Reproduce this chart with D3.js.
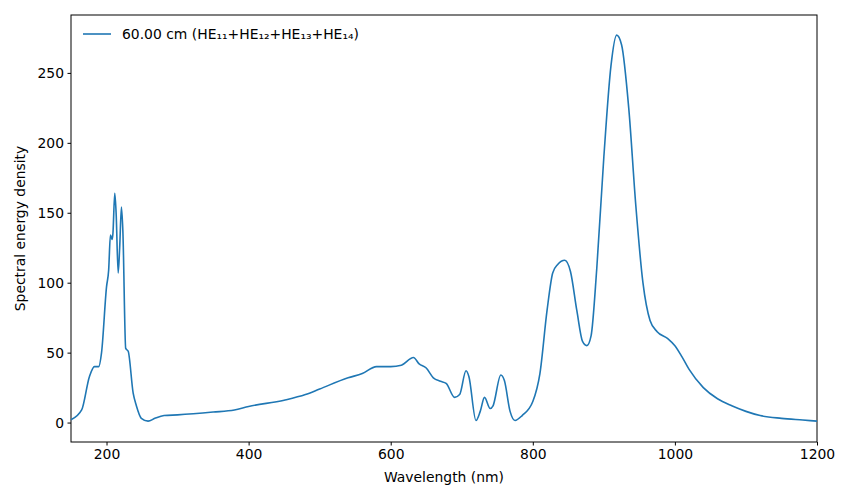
<!DOCTYPE html>
<html><head><meta charset="utf-8">
<script src="https://cdn.jsdelivr.net/npm/d3@7"></script>
<style>body{margin:0;background:#fff}svg text{font-family:"DejaVu Sans",sans-serif}</style>
</head><body><svg id="c" width="850" height="500"></svg>
<script>
const wavelength=[150,165,176,183,189,193,200,203,205.5,208,209,211.6,213.5,216.4,218.5,221,223,227,230.5,237.5,242,249,258.5,268,281,300,350,380,400,450,480,500,540,560,580,600,615,632,640,650,660,670,678,690,697,706,710,720,726,732,740,744,755,760,768,775,785,800,810,820,828,835,845,853,862,870,876,882,890,900,910,918,925,935,945,955,965,975,990,1000,1010,1020,1040,1060,1080,1100,1120,1150,1180,1200];
const density=[2,9,33,40,40,50,97,109,134,131,135,164,150,107,125,154,137,53,51,21,12,3,1,3,5,5.5,7.5,9,11.5,16,20,24,32,35,40,40,41,46.5,42,39,32,29.5,28,18,20,37,33,1.5,8,18,10,12,34,30,8,1.5,5,15,35,80,107,113,116,108,80,58,55,62,110,190,255,277,270,225,155,100,73,65,60,55,47,38,25,17,12,8,5,3,1.8,1];
const xTicks=[200,400,600,800,1000,1200];
const yTicks=[0,50,100,150,200,250];
const label="60.00 cm (HE₁₁+HE₁₂+HE₁₃+HE₁₄)";
const FS=13.9;
const svg=d3.select("#c");
const L=71,R=817,T=15,B=442;
const x=d3.scaleLinear().domain([150,1200]).range([L,R]);
const y=d3.scaleLinear().domain([-13.9,291.4]).range([B,T]);
svg.append("g").attr("transform",`translate(0,${B})`).call(d3.axisBottom(x).tickValues(xTicks).tickFormat(d3.format("d")).tickSize(3.5).tickPadding(3.5))
 .call(g=>{g.select(".domain").remove();g.selectAll("text").attr("font-size",FS).attr("fill","#000");});
svg.append("g").attr("transform",`translate(${L},0)`).call(d3.axisLeft(y).tickValues(yTicks).tickFormat(d3.format("d")).tickSize(3.5).tickPadding(3.5))
 .call(g=>{g.select(".domain").remove();g.selectAll("text").attr("font-size",FS).attr("fill","#000");});
svg.append("rect").attr("x",L).attr("y",T).attr("width",R-L).attr("height",B-T).attr("fill","none").attr("stroke","#000").attr("stroke-width",1);
const data=wavelength.map((w,i)=>[w,density[i]]);
svg.append("path").datum(data).attr("fill","none").attr("stroke","#1f77b4").attr("stroke-width",1.6)
 .attr("d",d3.line().x(d=>x(d[0])).y(d=>y(d[1])).curve(d3.curveMonotoneX));
svg.append("line").attr("x1",83).attr("x2",111).attr("y1",34).attr("y2",34).attr("stroke","#1f77b4").attr("stroke-width",1.6);
svg.append("text").attr("x",122).attr("y",39).attr("font-size",FS).text(label);
svg.append("text").attr("x",(L+R)/2).attr("y",482).attr("text-anchor","middle").attr("font-size",FS).text("Wavelength (nm)");
svg.append("text").attr("transform",`translate(25,${(T+B)/2}) rotate(-90)`).attr("text-anchor","middle").attr("font-size",FS).text("Spectral energy density");
</script></body></html>
